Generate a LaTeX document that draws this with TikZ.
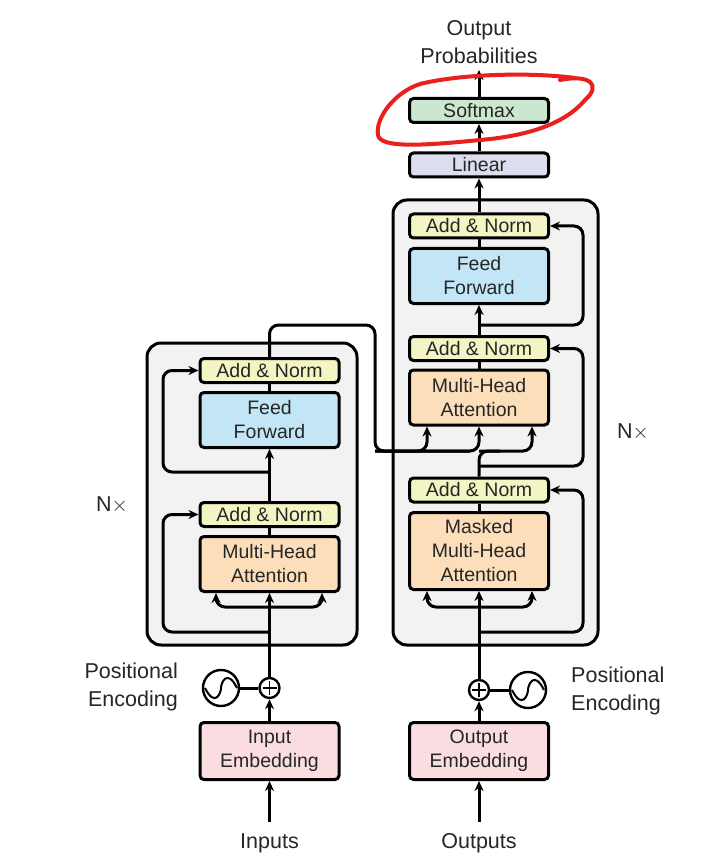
\documentclass[tikz,border=0pt]{standalone}
\usepackage{fontspec}
\setmainfont{Liberation Sans}
\usetikzlibrary{arrows.meta}
\definecolor{cAN}{HTML}{F3F6C4}
\definecolor{cFF}{HTML}{C3E6F6}
\definecolor{cMH}{HTML}{FCDFBA}
\definecolor{cEM}{HTML}{FADDE0}
\definecolor{cLI}{HTML}{DCDEEF}
\definecolor{cSM}{HTML}{CCE7CF}
\definecolor{cBG}{HTML}{F2F2F2}
\definecolor{cRED}{HTML}{E8201E}
\tikzset{
  box/.style={draw=black, line width=3pt, rounded corners=4pt, minimum width=139pt, align=center, inner sep=0pt, font=\fontsize{19.5}{24}\selectfont, text=black!85},
  an/.style={box, fill=cAN, minimum height=24pt},
  big/.style={box, minimum height=55pt},
  wire/.style={line width=3pt, rounded corners=9pt},
  arr/.style={wire, -{Stealth[length=10pt,width=9pt]}},
  bg/.style={draw=black, line width=3pt, fill=cBG, rounded corners=14pt},
  lbl/.style={font=\fontsize{21.5}{28}\selectfont, text=black!85, align=center, inner sep=0pt},
  plus/.style={draw, line width=2.4pt, circle, minimum size=20pt, inner sep=0pt, fill=white},
  sine/.style={draw, line width=2.4pt, circle, minimum size=36pt, inner sep=0pt},
}
\begin{document}
\begin{tikzpicture}[x=1pt,y=-1pt]
\useasboundingbox (0,0) rectangle (726,858);
\fill[white] (0,0) rectangle (726,858);
% backgrounds
\draw[bg] (147,343) rectangle (357,645);
\draw[bg] (393,200) rectangle (598,645);
% encoder
\node[an] (eAN2) at (269.5,370.5) {Add \& Norm};
\node[big, fill=cFF] (eFF) at (269.5,420) {Feed\\Forward};
\node[an] (eAN1) at (269.5,514.5) {Add \& Norm};
\node[big, fill=cMH] (eMH) at (269.5,564) {Multi-Head\\Attention};
\node[big, fill=cEM, minimum height=57pt] (eEM) at (269.5,751) {Input\\Embedding};
% decoder
\node[an] (dAN3) at (479,226) {Add \& Norm};
\node[big, fill=cFF] (dFF) at (479,276) {Feed\\Forward};
\node[an] (dAN2) at (479,348.5) {Add \& Norm};
\node[big, fill=cMH] (dMH) at (479,397.5) {Multi-Head\\Attention};
\node[an] (dAN1) at (479,490) {Add \& Norm};
\node[box, fill=cMH, minimum height=77pt] (dMM) at (479,551) {Masked\\Multi-Head\\Attention};
\node[big, fill=cEM, minimum height=57pt] (dEM) at (479,751) {Output\\Embedding};
\node[an, fill=cLI] (lin) at (479,165) {Linear};
\node[an, fill=cSM] (sm) at (479,110.5) {Softmax};
% texts
\node[lbl] (op) at (479,42) {Output\\Probabilities};
\node[lbl] (inp) at (269.5,843) {Inputs};
\node[lbl] (outp) at (479,843) {Outputs};
\node[lbl, anchor=east, align=right] (pel) at (178,687) {Positional\\Encoding};
\node[lbl, anchor=west, align=left] (per) at (571,691) {Positional\\Encoding};
\node[lbl] (nxl) at (112,505) {N$\times$};
\node[lbl] (nxr) at (633,432) {N$\times$};
% positional encodings
\node[plus] (pl) at (269.5,688) {};
\draw[line width=1.6pt] ([yshift=-7pt]pl.center) -- ([yshift=7pt]pl.center) ([xshift=-7pt]pl.center) -- ([xshift=7pt]pl.center);
\node[sine] (sl) at (221,688) {};
\draw[line width=2pt] ([xshift=-16pt]sl.center) .. controls ([xshift=-6pt,yshift=-20pt]sl.center) and ([xshift=0pt,yshift=-5pt]sl.center) .. (sl.center) .. controls ([xshift=0pt,yshift=5pt]sl.center) and ([xshift=6pt,yshift=20pt]sl.center) .. ([xshift=16pt]sl.center);
\node[plus] (pr) at (479,690) {};
\draw[line width=1.6pt] ([yshift=-7pt]pr.center) -- ([yshift=7pt]pr.center) ([xshift=-7pt]pr.center) -- ([xshift=7pt]pr.center);
\node[sine] (sr) at (528,690) {};
\draw[line width=2pt] ([xshift=-16pt]sr.center) .. controls ([xshift=-6pt,yshift=-20pt]sr.center) and ([xshift=0pt,yshift=-5pt]sr.center) .. (sr.center) .. controls ([xshift=0pt,yshift=5pt]sr.center) and ([xshift=6pt,yshift=20pt]sr.center) .. ([xshift=16pt]sr.center);
\draw[wire] (sl) -- (pl);
\draw[wire] (sr) -- (pr);
% input arrows
\draw[arr] (inp.north |- 0,822) -- (eEM.south);
\draw[arr] (outp.north |- 0,822) -- (dEM.south);
\draw[arr] (eEM.north) -- (pl.south);
\draw[arr] (dEM.north) -- (pr.south);
% encoder wiring
\draw[arr] (pl.north) -- (eMH.south);
\draw[arr] (269.5,607) -| (216,0 |- eMH.south);
\draw[arr] (269.5,607) -| (322,0 |- eMH.south);
\draw[arr] (269.5,632) -| (163,514.5) -- (eAN1.west);
\draw[wire] (eMH.north) -- (eAN1.south);
\draw[arr] (eAN1.north) -- (eFF.south);
\draw[arr] (269.5,472) -| (163,370.5) -- (eAN2.west);
\draw[wire] (eFF.north) -- (eAN2.south);
\draw[wire] (eAN2.north) |- (375,325) |- (470,451);
\draw[arr] (375,451) -| (427,0 |- dMH.south);
\draw[arr] (375,451) -| (479,0 |- dMH.south);
% decoder wiring
\draw[arr] (pr.north) -- (dMM.south);
\draw[arr] (479,607) -| (427,0 |- dMM.south);
\draw[arr] (479,607) -| (532,0 |- dMM.south);
\draw[arr] (479,632) -| (583,490) -- (dAN1.east);
\draw[wire] (dMM.north) -- (dAN1.south);
\draw[wire] (dAN1.north) |- (500,451);
\draw[arr] (479,451) -| (532,0 |- dMH.south);
\draw[arr] (479,466) -| (583,348.5) -- (dAN2.east);
\draw[wire] (dMH.north) -- (dAN2.south);
\draw[arr] (dAN2.north) -- (dFF.south);
\draw[arr] (479,325) -| (583,226) -- (dAN3.east);
\draw[wire] (dFF.north) -- (dAN3.south);
\draw[arr] (dAN3.north) -- (lin.south);
\draw[arr] (lin.north) -- (sm.south);
\draw[arr] (sm.north) -- (479,70);
% red annotation
\draw[cRED, line width=4pt, line cap=round, line join=round]
  (560,80) .. controls (590,74) and (602,85) .. (585,100)
  .. controls (570,118) and (540,135) .. (480,140)
  .. controls (420,146) and (380,148) .. (378,135)
  .. controls (375,118) and (395,92) .. (420,84)
  .. controls (460,74) and (530,72) .. (575,78);
\end{tikzpicture}
\end{document}
